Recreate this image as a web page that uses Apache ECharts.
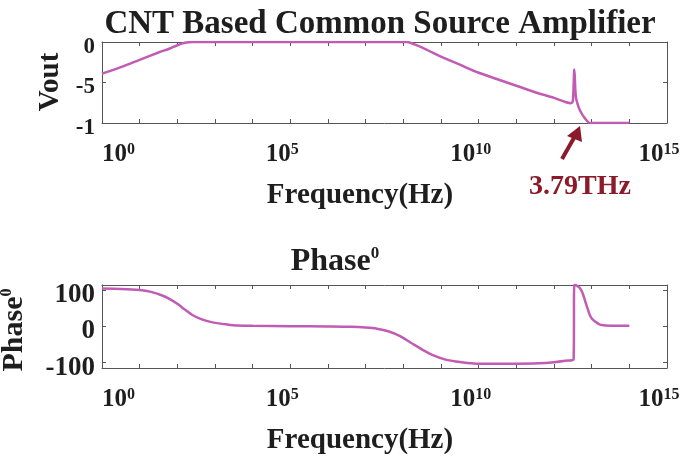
<!DOCTYPE html>
<html>
<head>
<meta charset="utf-8">
<script src="https://cdn.jsdelivr.net/npm/echarts@6/dist/echarts.min.js"></script>
<style>
  html, body { margin: 0; padding: 0; background: #fff; }
  #main { width: 685px; height: 460px; }
</style>
</head>
<body>
<div id="main"></div>
<script>
// frequency given as log10(Hz)
var magExp = [0, 0.5, 1, 1.5, 1.8, 2, 2.2, 2.4, 3, 5, 7, 8.1, 8.3, 8.6, 9, 9.5, 10, 10.5, 11, 11.5, 12, 12.3, 12.45, 12.5, 12.54, 12.58, 12.65, 12.73, 12.8, 12.87, 12.95, 13.5, 14];
var vout   = [-3.9, -3.1, -2.2, -1.3, -0.8, -0.4, -0.1, 0, 0, 0, 0, 0, -0.3, -0.9, -1.8, -2.8, -3.8, -4.6, -5.4, -6.2, -6.9, -7.4, -7.55, -7.3, -3.4, -6.75, -8.0, -8.8, -9.3, -9.7, -10, -10, -10];

var phaseExp = [0, 0.5, 1, 1.3, 1.6, 1.8, 2, 2.2, 2.4, 2.6, 2.8, 3, 3.3, 3.6, 4, 5, 6, 6.6, 7, 7.3, 7.6, 7.9, 8.2, 8.5, 8.8, 9.1, 9.4, 9.7, 10, 11, 11.6, 12, 12.3, 12.52, 12.54, 12.62, 12.69, 12.76, 12.82, 12.89, 12.95, 13.02, 13.09, 13.17, 13.26, 13.5, 14];
var phase    = [105, 104, 101, 96, 86, 76, 63, 47, 32, 22, 15, 10, 6, 3, 2, 1, 0, -1, -3, -6, -13, -26, -45, -64, -80, -91, -97, -101, -103, -103, -102, -99, -95, -91, 117, 112, 106, 92, 73, 50, 32, 20, 14, 8, 4, 2, 2];

var decadeLabels = [0, 5, 10, 15];
var voutTicks = [-10, -5, 0];
var phaseTicks = [-100, 0, 100];

var FONT = '"Liberation Serif", "Times New Roman", serif';
var INK = '#1e1e1e';
var LINE = '#c05cb4';
var FRAME = '#555';

function pairs(xs, ys) {
  var out = [];
  for (var i = 0; i < xs.length; i++) out.push([xs[i], ys[i]]);
  return out;
}

var chart = echarts.init(document.getElementById('main'));

function freqAxis(grid, pos, withLabels) {
  return {
    type: 'value', gridIndex: grid, position: pos,
    min: 0, max: 15, interval: 1,
    axisLine: { show: true, onZero: false, lineStyle: { color: FRAME, width: 1 } },
    axisTick: { show: true, inside: true, length: 4, lineStyle: { color: FRAME } },
    splitLine: { show: false },
    axisLabel: {
      show: withLabels,
      margin: 19,
      alignMinLabel: 'left',
      padding: [0, 16, 0, 0],
      formatter: function (v) {
        return decadeLabels.indexOf(v) >= 0 ? '{b|10}{s|' + v + '}' : '';
      },
      rich: {
        b: { fontFamily: FONT, fontWeight: 'bold', fontSize: 25, color: INK, lineHeight: 26 },
        s: { fontFamily: FONT, fontWeight: 'bold', fontSize: 16, color: INK, verticalAlign: 'top', lineHeight: 26 }
      }
    }
  };
}

function valAxis(grid, pos, lo, hi, ticks, fs, fmt, withLabels) {
  return {
    type: 'value', gridIndex: grid, position: pos,
    min: lo, max: hi,
    axisLine: { show: true, onZero: false, lineStyle: { color: FRAME, width: 1 } },
    axisTick: { show: true, inside: true, length: 4, customValues: ticks, lineStyle: { color: FRAME } },
    splitLine: { show: false },
    axisLabel: {
      show: withLabels,
      customValues: ticks,
      margin: 7,
      formatter: function (v) { return '{t|' + fmt(v) + '}'; },
      rich: {
        t: { fontFamily: FONT, fontWeight: 'bold', fontSize: fs, color: INK, padding: [10, 0, 0, 0] }
      }
    }
  };
}

var voutFmt = function (v) { return v === -10 ? '-1' : String(v); };
var phaseFmt = function (v) { return String(v); };

var option = {
  backgroundColor: '#fff',
  animation: false,
  grid: [
    { left: 102, right: 18, top: 42, height: 81, outerBoundsMode: 'none' },
    { left: 102, right: 18, top: 285, height: 83, outerBoundsMode: 'none' }
  ],
  xAxis: [
    freqAxis(0, 'bottom', true),
    freqAxis(0, 'top', false),
    freqAxis(1, 'bottom', true),
    freqAxis(1, 'top', false)
  ],
  yAxis: [
    valAxis(0, 'left', -10, 0, voutTicks, 23, voutFmt, true),
    valAxis(0, 'right', -10, 0, voutTicks, 23, voutFmt, false),
    valAxis(1, 'left', -115, 115, phaseTicks, 27, phaseFmt, true),
    valAxis(1, 'right', -115, 115, phaseTicks, 27, phaseFmt, false)
  ],
  series: [
    {
      type: 'line', xAxisIndex: 0, yAxisIndex: 0,
      data: pairs(magExp, vout),
      showSymbol: false, smooth: 0.3,
      lineStyle: { color: LINE, width: 2.5 }
    },
    {
      type: 'line', xAxisIndex: 2, yAxisIndex: 2,
      data: pairs(phaseExp, phase),
      showSymbol: false, smooth: 0.3,
      lineStyle: { color: LINE, width: 2.5 }
    }
  ],
  graphic: [
    { type: 'text', x: 380, y: 24, style: { text: 'CNT Based Common Source Amplifier', font: 'bold 33px ' + FONT, fill: INK, textAlign: 'center', textVerticalAlign: 'middle' } },
    { type: 'text', x: 360, y: 196, style: { text: 'Frequency(Hz)', font: 'bold 29px ' + FONT, fill: INK, textAlign: 'center', textVerticalAlign: 'middle' } },
    { type: 'text', x: 580, y: 187, style: { text: '3.79THz', font: 'bold 28px ' + FONT, fill: '#8b1a2a', textAlign: 'center', textVerticalAlign: 'middle' } },
    { type: 'line', shape: { x1: 562, y1: 159, x2: 575, y2: 136 }, style: { stroke: '#8b1a2a', lineWidth: 4 } },
    { type: 'polygon', shape: { points: [[580, 126], [567, 136], [582, 142]] }, style: { fill: '#8b1a2a' } },
    { type: 'text', x: 51, y: 82, rotation: Math.PI / 2, style: { text: 'Vout', font: 'bold 29px ' + FONT, fill: INK, textAlign: 'center', textVerticalAlign: 'middle' } },
    { type: 'text', x: 335, y: 262, style: {
        text: '{b|Phase}{s|0}', textAlign: 'center', textVerticalAlign: 'middle',
        rich: {
          b: { fontFamily: FONT, fontWeight: 'bold', fontSize: 32, fill: INK, lineHeight: 34 },
          s: { fontFamily: FONT, fontWeight: 'bold', fontSize: 17, fill: INK, verticalAlign: 'top', lineHeight: 34 }
        } } },
    { type: 'text', x: 360, y: 441, style: { text: 'Frequency(Hz)', font: 'bold 29px ' + FONT, fill: INK, textAlign: 'center', textVerticalAlign: 'middle' } },
    { type: 'text', x: 14, y: 330, rotation: Math.PI / 2, style: {
        text: '{b|Phase}{s|0}', textAlign: 'center', textVerticalAlign: 'middle',
        rich: {
          b: { fontFamily: FONT, fontWeight: 'bold', fontSize: 30, fill: INK, lineHeight: 30 },
          s: { fontFamily: FONT, fontWeight: 'bold', fontSize: 16, fill: INK, verticalAlign: 'top', lineHeight: 30 }
        } } }
  ]
};

chart.setOption(option);
</script>
</body>
</html>
